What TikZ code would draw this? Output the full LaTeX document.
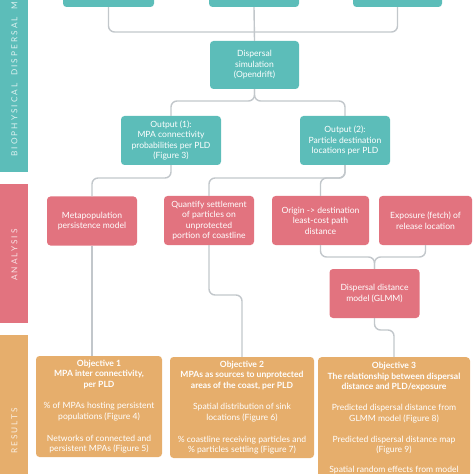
\documentclass[tikz,border=0pt]{standalone}
\usepackage{fontspec}
\setmainfont{Lato}
\newfontfamily\barfont[LetterSpace=25,WordSpace=1.8]{Lato}
\definecolor{tealc}{HTML}{5CBDB9}
\definecolor{pinkc}{HTML}{E2737F}
\definecolor{orangec}{HTML}{E6AE6C}
\definecolor{linec}{HTML}{C2C7CB}
\begin{document}
\begin{tikzpicture}[x=1bp,y=-1bp,
  box/.style={rounded corners=3.5bp, text=white, align=center, inner sep=0pt,
    font=\fontsize{8.6}{10.6}\selectfont},
  tealbox/.style={box, fill=tealc},
  pinkbox/.style={box, fill=pinkc},
  objbox/.style={box, fill=orangec},
  bartext/.style={rotate=90, text=white, text opacity=0.8, inner sep=0pt,
    font=\barfont\fontsize{8.3}{8.3}\selectfont},
  conn/.style={draw=linec, line width=1.4bp, rounded corners=6bp}]
\useasboundingbox (0,0) rectangle (474,474);
\clip (0,0) rectangle (474,474);

% side bars
\fill[tealc] (0,-10) rectangle (28,172);
\fill[pinkc] (0,184) rectangle (28,323);
\fill[orangec] (0,335) rectangle (28,490);
\node[bartext, anchor=west] (lbio) at (14.5,157) {BIOPHYSICAL DISPERSAL MODEL};
\node[bartext] (lana) at (14.5,255) {ANALYSIS};
\node[bartext] (lres) at (14.5,431) {RESULTS};

% biophysical boxes
\node[tealbox, minimum width=91bp, minimum height=30bp] (top1) at (108.5,-8) {};
\node[tealbox, minimum width=90bp, minimum height=30bp] (top2) at (254,-8) {};
\node[tealbox, minimum width=89bp, minimum height=30bp] (top3) at (397.5,-8) {};
\node[tealbox, minimum width=89bp, minimum height=48bp] (disp) at (254.5,65)
  {Dispersal\\simulation\\(Opendrift)};
\node[tealbox, minimum width=100bp, minimum height=49bp] (out1) at (171,140.5)
  {Output (1):\\MPA connectivity\\probabilities per PLD\\(Figure 3)};
\node[tealbox, minimum width=90bp, minimum height=49bp] (out2) at (345,140.5)
  {Output (2):\\Particle destination\\locations per PLD};

% analysis boxes
\node[pinkbox, minimum width=90bp, minimum height=49bp] (meta) at (92,221)
  {Metapopulation\\persistence model};
\node[pinkbox, minimum width=90bp, minimum height=49bp] (quant) at (209,220.5)
  {Quantify settlement\\of particles on\\unprotected\\portion of coastline};
\node[pinkbox, minimum width=97bp, minimum height=49bp] (origin) at (320.5,220.5)
  {Origin -> destination\\least-cost path\\distance};
\node[pinkbox, minimum width=93bp, minimum height=49bp] (expo) at (425.5,220.5)
  {Exposure (fetch) of\\release location};
\node[pinkbox, minimum width=90bp, minimum height=49bp] (glmm) at (374.5,293.5)
  {Dispersal distance\\model (GLMM)};

% result boxes
\node[objbox, minimum width=126bp, minimum height=101bp] (obj1) at (99,406.5)
  {\textbf{Objective 1}\\\textbf{MPA inter connectivity,}\\\textbf{per PLD}\\[11bp]
   \% of MPAs hosting persistent\\populations (Figure 4)\\[11bp]
   Networks of connected and\\persistent MPAs (Figure 5)};
\node[objbox, minimum width=144bp, minimum height=101bp] (obj2) at (242,407.5)
  {\textbf{Objective 2}\\\textbf{MPAs as sources to unprotected}\\\textbf{areas of the coast, per PLD}\\[11bp]
   Spatial distribution of sink\\locations (Figure 6)\\[11bp]
   \% coastline receiving particles and\\\% particles settling (Figure 7)};
\node[objbox, minimum width=152bp, minimum height=125bp, inner ysep=5bp, anchor=north] (obj3) at (394,357) {};
\node[box, anchor=north] (obj3t) at ([yshift=-5bp]obj3.north)
  {\textbf{Objective 3}\\\textbf{The relationship between dispersal}\\\textbf{distance and PLD/exposure}\\[10.5bp]
   Predicted dispersal distance from\\GLMM model (Figure 8)\\[10.5bp]
   Predicted dispersal distance map\\(Figure 9)\\[9bp]
   Spatial random effects from model};

% junction rows
\coordinate (row0) at (0,32);
\coordinate (row1) at (0,101);
\coordinate (row2) at (0,178);
\coordinate (row3) at (0,257);
\coordinate (row4) at (0,295);
\coordinate (row5) at (0,330);

% connectors
\draw[conn] (top1.south) |- (top2.south |- row0) -| (top3.south);
\draw[conn] (top2.south) -- (disp.north);
\draw[conn] (disp.south) |- (out1.north |- row1) -- (out1.north);
\draw[conn] (disp.south) |- (out2.north |- row1) -- (out2.north);
\draw[conn] (out1.south) |- (meta.north |- row2) -- (meta.north);
\draw[conn] (out2.south) |- (quant.north |- row2) -- (quant.north);
\draw[conn] (out2.south) |- (origin.north |- row2) -- (origin.north);
\draw[conn] (meta.south) -- (meta.south |- obj1.north);
\draw[conn] (quant.south) |- (obj2.north |- row4) -- (obj2.north);
\draw[conn] (origin.south) |- (glmm.north |- row3) -- (glmm.north);
\draw[conn] (expo.south) |- (glmm.north |- row3) -- (glmm.north);
\draw[conn] (glmm.south) |- (obj3.north |- row5) -- (obj3.north);
\end{tikzpicture}
\end{document}
